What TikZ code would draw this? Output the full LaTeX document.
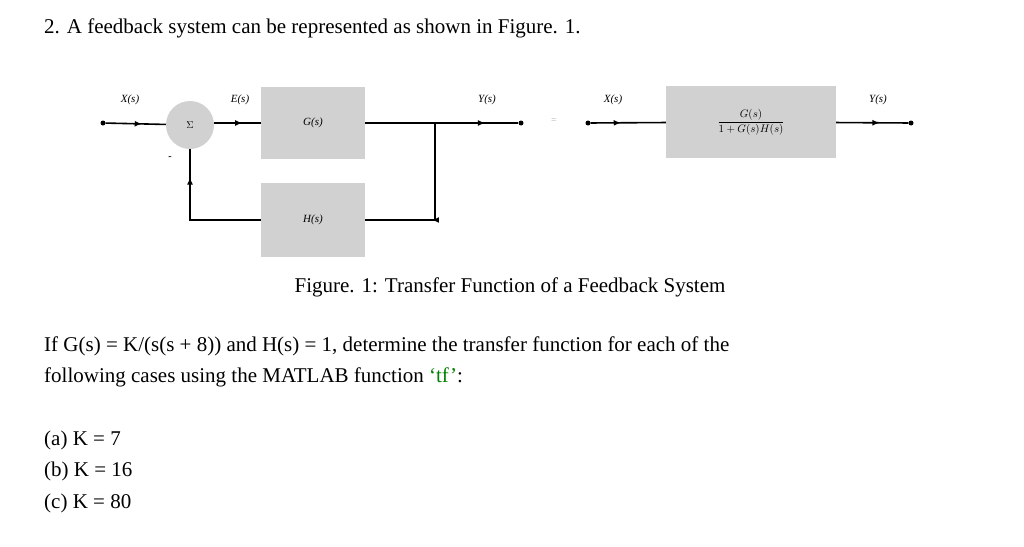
\documentclass[tikz,border=0pt]{standalone}
\usepackage{fontspec}
\setmainfont{Liberation Serif}
\usetikzlibrary{decorations.markings,arrows.meta}
\begin{document}
\begin{tikzpicture}[x=1pt,y=-1pt,
  blk/.style={fill=black!18,draw=none,minimum width=104pt,minimum height=72pt,inner sep=0pt,font=\fontsize{11}{12}\selectfont\itshape},
  ln/.style={line width=1.6pt},
  mid/.style={ln,postaction={decorate},decoration={markings,mark=at position #1 with {\arrow{Latex[length=7pt,width=6pt]}}}},
  dot/.style={circle,fill=black,inner sep=0pt,minimum size=5pt},
  lab/.style={font=\fontsize{11}{12}\selectfont\itshape},
  txt/.style={anchor=west,inner sep=0pt,font=\fontsize{21}{24}\selectfont}]
\useasboundingbox (0,0) rectangle (1024,546);
\node[txt] (t1) at (44,28) {2. A feedback system can be represented as shown in Figure. 1.};
% diagram
\node[dot] (x0) at (103,123) {};
\node[circle,fill=black!18,minimum size=48pt,inner sep=0pt] (sum) at (190,125) {$\Sigma$};
\node[blk] (G) at (313,123) {G(s)};
\node[blk,minimum height=74pt] (H) at (313,220) {H(s)};
\coordinate (br) at (435,123);
\node[dot] (y0) at (521,123) {};
\draw[mid=0.6] (x0) -- (sum);
\draw[mid=0.6] (sum.east|-G) -- (G);
\draw[ln] (G) -- (br);
\draw[mid=0.6] (br) -- (y0);
\draw[mid=0.6] (br) -- (br|-H) -- (H);
\draw[mid=0.8] (H) -| (sum);
\node[lab] at (130,100) {X(s)};
\node[lab] at (240,100) {E(s)};
\node[lab] at (487,100) {Y(s)};
\node[font=\bfseries] at (170,158) {-};
\node[text=black!30] at (554,121) {=};
\node[dot] (x1) at (588,123) {};
\node[blk,minimum width=170pt] (T) at (751,122) {$\displaystyle\frac{G(s)}{1 + G(s)H(s)}$};
\node[dot] (y1) at (911,123) {};
\draw[mid=0.4] (x1) -- (T);
\draw[mid=0.6] (T) -- (y1);
\node[lab] at (613,100) {X(s)};
\node[lab] at (878,100) {Y(s)};
% text
\node[txt,anchor=center] (cap) at (510,287) {Figure. 1: Transfer Function of a Feedback System};
\node[txt] (p1) at (44,346) {If G(s) = K/(s(s + 8)) and H(s) = 1, determine the transfer function for each of the};
\node[txt] (p2) at (44,377) {following cases using the MATLAB function {\color{green!50!black}‘tf’}:};
\node[txt] (a) at (44,440) {(a) K = 7};
\node[txt] (b) at (44,471) {(b) K = 16};
\node[txt] (c) at (44,503) {(c) K = 80};
\end{tikzpicture}
\end{document}
